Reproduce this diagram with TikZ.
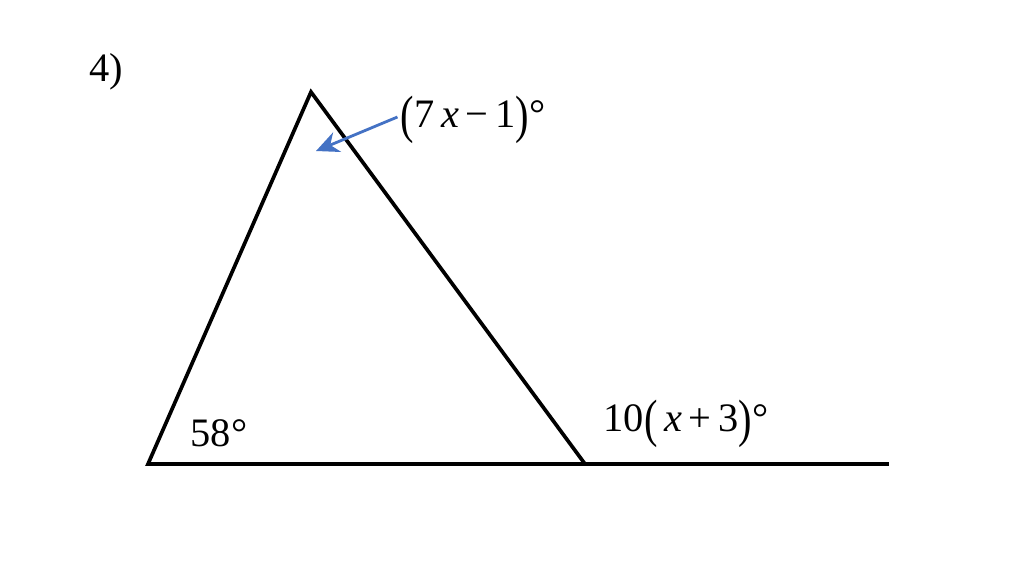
\documentclass[tikz,border=0pt]{standalone}
\usepackage{fontspec}
\usepackage{graphicx}
\setmainfont{Liberation Serif}
\usetikzlibrary{arrows.meta}
\definecolor{pointer}{HTML}{4472C4}
\newcommand{\tallL}{\raisebox{-0.12em}{\scalebox{1}[1.3]{(}}}
\newcommand{\tallR}{\raisebox{-0.12em}{\scalebox{1}[1.3]{)}}}

\begin{document}
\begin{tikzpicture}[x=0.02cm,y=-0.02cm,
                    edge/.style={line width=2.1pt,line join=miter},
                    lbl/.style={font=\fontsize{23}{27}\selectfont,inner sep=0pt},
                    pointto/.style={pointer,line width=1.6pt,-{Stealth[length=13pt,width=12pt]}}]
      \useasboundingbox (0,0) rectangle (1030,578);
      \coordinate (left) at (148,464);
      \coordinate (top) at (311,92);
      \coordinate (right) at (585,464);
      \coordinate (far) at (889,464);
      \coordinate (inside) at (316,151);

      \node[lbl] (num) at (106,72) {4)};
      \node[lbl] (base) at (219,433) {58°};
      \node[lbl] (ext) at (686,424) {10\tallL\,\textit{x}\,+\,3\tallR°};
      \node[lbl] (apex) at (473,120) {\tallL7\,\textit{x}\,−\,1\tallR°};

      \draw[edge] (left) -- (top) -- (right) -- cycle;
      \draw[edge] (right) -- (far);
      \draw[pointto] (apex.west) ++(-3,-3) -- (inside);
    \end{tikzpicture}
\end{document}
